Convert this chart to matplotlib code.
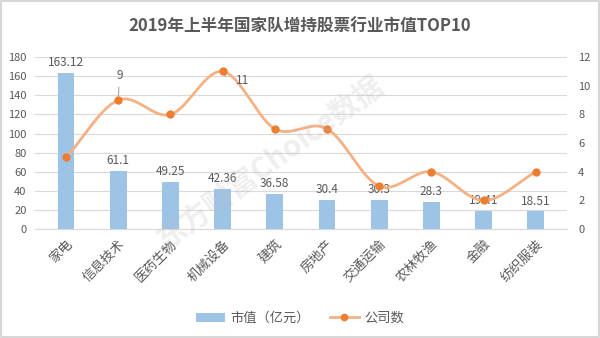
import numpy as np
import matplotlib
matplotlib.use("Agg")
import matplotlib.pyplot as plt
from matplotlib.patches import Rectangle

plt.rcParams['font.family'] = ['Noto Sans CJK SC', 'DejaVu Sans']

categories = ["家电", "信息技术", "医药生物", "机械设备", "建筑", "房地产", "交通运输", "农林牧渔", "金融", "纺织服装"]
market_value = [163.12, 61.1, 49.25, 42.36, 36.58, 30.4, 30.3, 28.3, 19.41, 18.51]
company_count = [5, 9, 8, 11, 7, 7, 3, 4, 2, 4]
left_ticks = list(range(0, 181, 20))
right_ticks = list(range(0, 13, 2))

bar_color = "#9DC3E6"
line_color = "#F4B183"
dot_color = "#ED7D31"
text_color = "#595959"


def catmull_rom(xs, ys, n=30):
    # smooth curve through the points, like Excel's smoothed line
    xs = np.asarray(xs, float)
    ys = np.asarray(ys, float)
    px = np.concatenate([[2 * xs[0] - xs[1]], xs, [2 * xs[-1] - xs[-2]]])
    py = np.concatenate([[2 * ys[0] - ys[1]], ys, [2 * ys[-1] - ys[-2]]])
    outx, outy = [], []
    for i in range(1, len(px) - 2):
        t = np.linspace(0, 1, n)
        for p, out in ((px, outx), (py, outy)):
            p0, p1, p2, p3 = p[i - 1], p[i], p[i + 1], p[i + 2]
            out.extend(0.5 * ((2 * p1) + (-p0 + p2) * t
                              + (2 * p0 - 5 * p1 + 4 * p2 - p3) * t ** 2
                              + (-p0 + 3 * p1 - 3 * p2 + p3) * t ** 3))
    return np.array(outx), np.array(outy)


fig = plt.figure(figsize=(6, 3.38), dpi=100)
fig.patches.append(Rectangle((0.002, 0.003), 0.996, 0.994, transform=fig.transFigure,
                             fill=False, edgecolor="#D0D0D0", linewidth=1.2))

ax = fig.add_axes([0.058, 0.322, 0.887, 0.509])
ax2 = ax.twinx()

# faint watermark
fig.text(0.45, 0.52, "东方财富Choice数据", rotation=36, ha="center", va="center",
         fontsize=21, fontweight="bold", color="#BFBFBF", alpha=0.25, zorder=0)

x = np.arange(len(categories))
bars = ax.bar(x, market_value, width=0.32, color=bar_color, zorder=2)
for xi, v in zip(x, market_value):
    ax.text(xi, v + 4, f"{v:g}", ha="center", va="bottom", fontsize=8.5, color=text_color)

ax.set_ylim(0, 180)
ax.set_yticks(left_ticks)
ax.set_xlim(-0.6, len(categories) - 0.4)
ax.set_xticks(x)
ax.set_xticklabels(categories, rotation=45, ha="right", rotation_mode="anchor",
                   fontsize=9.5, color=text_color)
ax.tick_params(axis="y", length=0, labelsize=8, colors=text_color, pad=6)
ax.tick_params(axis="x", length=0, pad=6)
ax.grid(axis="y", color="#D9D9D9", linewidth=0.8, zorder=0)
for s in ["top", "left", "right"]:
    ax.spines[s].set_visible(False)
ax.spines["bottom"].set_color("#D9D9D9")

sx, sy = catmull_rom(x, company_count)
ax2.plot(sx, sy, color=line_color, linewidth=2, zorder=3)
ax2.plot(x, company_count, "o", color=dot_color, markersize=5, zorder=4)
line_handle, = ax2.plot([], [], "-o", color=line_color, markerfacecolor=dot_color,
                        markeredgecolor=dot_color, markersize=4.5, linewidth=2)
ax2.set_ylim(0, 12)
ax2.set_yticks(right_ticks)
ax2.tick_params(axis="y", length=0, labelsize=8, colors=text_color, pad=8)
for s in ax2.spines.values():
    s.set_visible(False)

# labels for the two annotated points
ax2.annotate("9", xy=(1, company_count[1]), xytext=(1.02, 10.75), ha="center", va="center",
             fontsize=8.5, color=text_color,
             arrowprops=dict(arrowstyle="-", color="#A6A6A6", lw=0.8, shrinkA=2, shrinkB=3))
ax2.annotate("11", xy=(3, company_count[3]), xytext=(3.38, 10.35), ha="center", va="center",
             fontsize=8.5, color=text_color,
             arrowprops=dict(arrowstyle="-", color="#A6A6A6", lw=0.8, shrinkA=6, shrinkB=2,
                             connectionstyle="angle,angleA=0,angleB=-60"))

fig.text(0.5, 0.92, "2019年上半年国家队增持股票行业市值TOP10", ha="center", va="center",
         fontsize=12, fontweight="bold", color=text_color)

fig.legend([bars, line_handle], ["市值（亿元）", "公司数"], loc="center", bbox_to_anchor=(0.5, 0.058),
           ncol=2, frameon=False, fontsize=9.5, labelcolor=text_color, handlelength=2.2,
           columnspacing=1.5, handletextpad=0.4)

fig.savefig("out.png", dpi=100)
